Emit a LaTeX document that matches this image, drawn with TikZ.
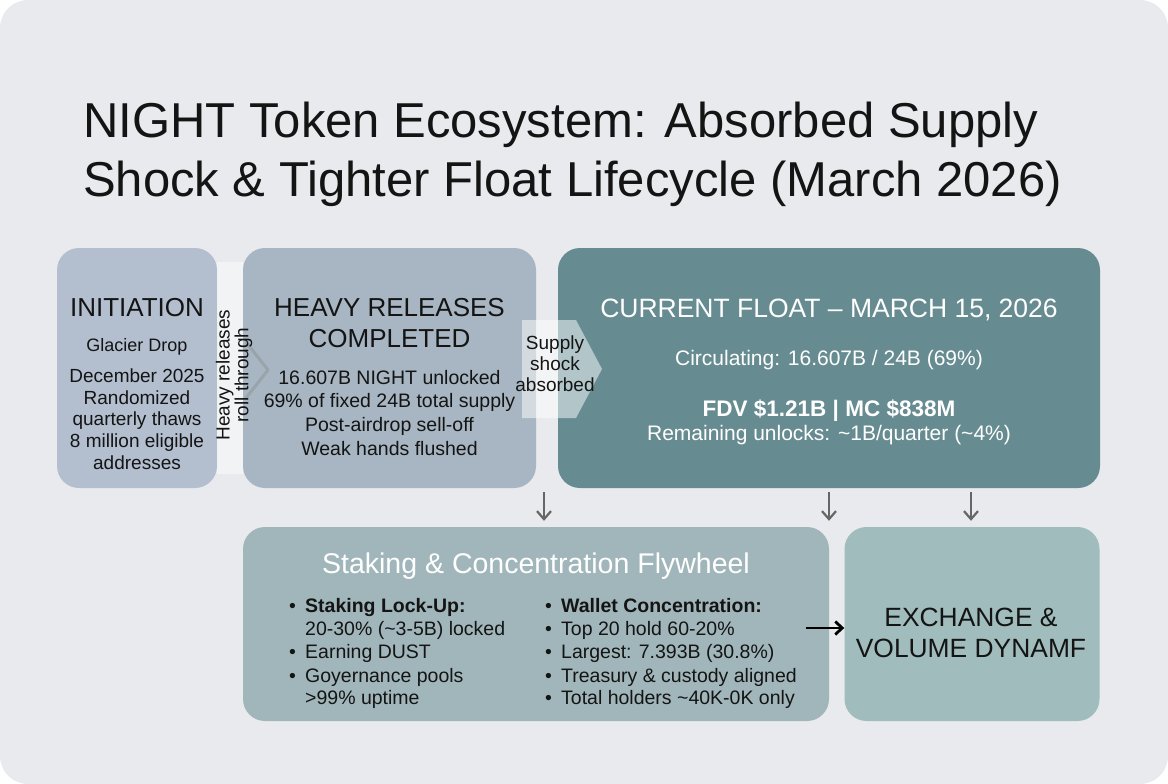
\documentclass[tikz,border=0pt]{standalone}
\usepackage{fontspec}
\setmainfont{Liberation Sans}
\usetikzlibrary{arrows.meta}
\definecolor{bgc}{HTML}{E8EAED}
\definecolor{cinit}{HTML}{B3BFCF}
\definecolor{cheavy}{HTML}{A7B6C2}
\definecolor{cfloat}{HTML}{668C91}
\definecolor{cstake}{HTML}{A1B6BA}
\definecolor{cexch}{HTML}{A0BCBD}
\definecolor{ink}{HTML}{141414}
\definecolor{arrgray}{HTML}{666666}
\newcommand\setfs[2]{\fontsize{#1}{#2}\selectfont}
\begin{document}
\begin{tikzpicture}[x=1pt,y=-1pt,
  box/.style={rectangle, rounded corners=22pt, inner sep=0pt, draw=none},
  txt/.style={inner sep=0pt, anchor=base, text=ink},
  wtxt/.style={inner sep=0pt, anchor=base, text=white},
  ltxt/.style={inner sep=0pt, anchor=base west, text=ink},
  darr/.style={draw=arrgray, line width=2.2pt, -{Straight Barb[length=8pt,width=14pt]}},
  rarr/.style={draw=black, line width=2.8pt, -{Straight Barb[length=7pt,width=13pt]}}]
\useasboundingbox (0,0) rectangle (1168,784);
\fill[white] (0,0) rectangle (1168,784);
\fill[bgc, rounded corners=28pt] (0,0) rectangle (1168,784);

% title
\node[ltxt] (t1) at (83,137) {\setfs{49}{55}NIGHT Token Ecosystem: Absorbed Supply};
\node[ltxt] (t2) at (83,196) {\setfs{49}{55}Shock \& Tighter Float Lifecycle (March 2026)};

% boxes
\node[box, fill=cinit, minimum width=160pt, minimum height=240pt] (init) at (137,368) {};
\node[box, fill=cheavy, minimum width=293pt, minimum height=240pt] (heavy) at (389.5,368) {};
\node[box, fill=cfloat, minimum width=542pt, minimum height=240pt] (float) at (829,368) {};
\node[box, fill=cstake, minimum width=586pt, minimum height=194pt] (stake) at (536,624) {};
\node[box, fill=cexch, minimum width=255pt, minimum height=194pt] (exch) at (972,624) {};

% gap highlight and chevrons
\fill[white, opacity=0.45] (init.north east) ++(0,14) rectangle ([yshift=14pt]heavy.south west);
\draw[gray, opacity=0.35, line width=3pt, line join=round] (246,342) -- (268,370) -- (246,398);
\fill[white, opacity=0.5] (522,320) -- (576,320) -- (602,369) -- (576,418) -- (522,418) -- cycle;

% initiation text
\node[txt] (i1) at (137,316) {\setfs{26}{30}INITIATION};
\node[txt] (i2) at (137,351) {\setfs{18}{22}Glacier Drop};
\node[txt] (i3) at (137,382) {\setfs{19}{22}December 2025};
\node[txt] (i4) at (137,404) {\setfs{19}{22}Randomized};
\node[txt] (i5) at (137,425.5) {\setfs{19}{22}quarterly thaws};
\node[txt] (i6) at (137,447) {\setfs{19}{22}8 million eligible};
\node[txt] (i7) at (137,469) {\setfs{19}{22}addresses};

% rotated connector label
\node[inner sep=0pt, rotate=90, align=center, text=ink, font=\setfs{19}{17}] (roll) at (234,375)
  {Heavy releases\\roll through};

% heavy text
\node[txt] (h1) at (389.5,316) {\setfs{26}{30}HEAVY RELEASES};
\node[txt] (h2) at (389.5,347) {\setfs{26}{30}COMPLETED};
\node[txt] (h3) at (389.5,384) {\setfs{19.5}{23}16.607B NIGHT unlocked};
\node[txt] (h4) at (389.5,407) {\setfs{19.5}{23}69\% of fixed 24B total supply};
\node[txt] (h5) at (389.5,431) {\setfs{19.5}{23}Post-airdrop sell-off};
\node[txt] (h6) at (389.5,455) {\setfs{19.5}{23}Weak hands flushed};

% supply shock label
\node[inner sep=0pt, align=center, text=ink, font=\setfs{19}{21}] (shock) at (555,364)
  {Supply\\shock\\absorbed};

% float text
\node[wtxt] (f1) at (829,317) {\setfs{26.5}{30}CURRENT FLOAT – MARCH 15, 2026};
\node[wtxt] (f2) at (829,365) {\setfs{21}{24}Circulating: 16.607B / 24B (69\%)};
\node[wtxt] (f3) at (829,416) {\setfs{22.5}{26}\textbf{FDV \$1.21B | MC \$838M}};
\node[wtxt] (f4) at (829,440) {\setfs{21}{24}Remaining unlocks: \textasciitilde1B/quarter (\textasciitilde4\%)};

% staking text
\node[wtxt] (s0) at (536,573) {\setfs{28.5}{32}Staking \& Concentration Flywheel};
\node[ltxt] (b1) at (289,612) {\setfs{19.5}{23}•};
\node[ltxt] (l1) at (305,612) {\setfs{19.5}{23}\textbf{Staking Lock-Up:}};
\node[ltxt] (l2) at (305,635) {\setfs{19.5}{23}20-30\% (\textasciitilde3-5B) locked};
\node[ltxt] (b3) at (289,658) {\setfs{19.5}{23}•};
\node[ltxt] (l3) at (305,658) {\setfs{19.5}{23}Earning DUST};
\node[ltxt] (b4) at (289,682) {\setfs{19.5}{23}•};
\node[ltxt] (l4) at (305,682) {\setfs{19.5}{23}Goyernance pools};
\node[ltxt] (l5) at (305,704) {\setfs{19.5}{23}>99\% uptime};
\node[ltxt] (rb1) at (545,612) {\setfs{19.5}{23}•};
\node[ltxt] (r1) at (561,612) {\setfs{19.5}{23}\textbf{Wallet Concentration:}};
\node[ltxt] (rb2) at (545,635) {\setfs{19.5}{23}•};
\node[ltxt] (r2) at (561,635) {\setfs{19.5}{23}Top 20 hold 60-20\%};
\node[ltxt] (rb3) at (545,658) {\setfs{19.5}{23}•};
\node[ltxt] (r3) at (561,658) {\setfs{19.5}{23}Largest: 7.393B (30.8\%)};
\node[ltxt] (rb4) at (545,682) {\setfs{19.5}{23}•};
\node[ltxt] (r4) at (561,682) {\setfs{19.5}{23}Treasury \& custody aligned};
\node[ltxt] (rb5) at (545,704) {\setfs{19.5}{23}•};
\node[ltxt] (r5) at (561,704) {\setfs{19.5}{23}Total holders \textasciitilde40K-0K only};

% exchange text
\node[txt] (e1) at (971,626) {\setfs{26.4}{30}EXCHANGE \&};
\node[txt] (e2) at (971,657) {\setfs{26.4}{30}VOLUME DYNAMF};

% connectors
\coordinate (x1) at (544,0);
\coordinate (x2) at (829,0);
\coordinate (x3) at (971,0);
\coordinate (r0) at (806,628);
\draw[darr] ([yshift=-4pt]heavy.south -| x1) -- ([yshift=6pt]stake.north -| x1);
\draw[darr] ([yshift=-4pt]float.south -| x2) -- ([yshift=6pt]stake.north -| x2);
\draw[darr] ([yshift=-4pt]float.south -| x3) -- ([yshift=6pt]exch.north -| x3);
\draw[rarr] (r0) -- (exch.west |- r0);
\end{tikzpicture}
\end{document}
